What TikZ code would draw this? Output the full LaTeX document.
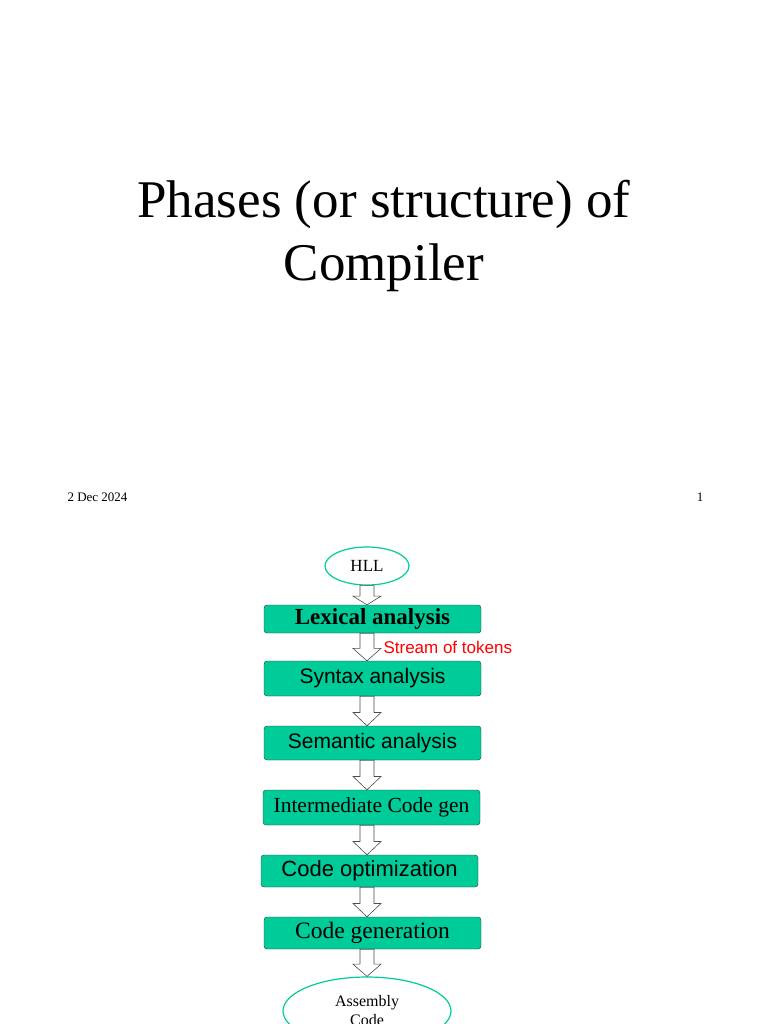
\documentclass[tikz,border=0pt]{standalone}
\usepackage{fontspec}
\setmainfont{Liberation Serif}
\setsansfont{Liberation Sans}
\usetikzlibrary{shapes.geometric,calc}
\definecolor{boxg}{HTML}{00CC99}
\tikzset{
 phase/.style={draw=black!80,fill=boxg,rounded corners=3pt,minimum width=217pt,inner sep=0pt,font=\fontsize{20}{22}\selectfont},
 term/.style={draw=boxg,line width=1.2pt,ellipse,inner sep=0pt},
 barrow/.style={draw=black!70,fill=white,line width=0.6pt}
}
\newcommand{\low}[1]{\raisebox{-15pt}{#1}}
\newcommand{\blockarrow}[2]{%
 \path let \p1=(#1.south), \p2=(#2.north), \n1={\y1-(\y1-\y2)*0.55} in
  [barrow] (367pt-7pt,\y1) -- (367pt+7pt,\y1) -- (367pt+7pt,\n1) -- (367pt+14pt,\n1) -- (367pt,\y2)
  -- (367pt-14pt,\n1) -- (367pt-7pt,\n1) -- cycle;}
\begin{document}
\begin{tikzpicture}[x=1pt,y=-1pt]
\useasboundingbox (0,0) rectangle (768,1024);
\clip (0,0) rectangle (768,1024);
\node[font=\fontsize{53}{63}\selectfont,align=center] (title) at (384,236) {Phases (or structure) of\\Compiler};
\node[font=\fontsize{13}{15}\selectfont,anchor=west] (d1) at (64,497) {2 Dec 2024};
\node[font=\fontsize{13}{15}\selectfont] (p1) at (700,497) {1};
\node[font=\fontsize{13}{15}\selectfont,anchor=west] (d2) at (64,1030) {2 Dec 2024};
\node[font=\fontsize{13}{15}\selectfont] (p2) at (700,1030) {2};

\node[term,minimum width=84pt,minimum height=38pt,font=\fontsize{17}{19}\selectfont] (hll) at (367,566) {HLL};
\node[phase,minimum height=28pt,font=\fontsize{23}{25}\selectfont] (lex) at (372.5,619) {\low{\textbf{Lexical analysis}}};
\node[phase,minimum height=35pt,font=\sffamily\fontsize{21}{23}\selectfont] (syn) at (372.5,678.5) {\low{Syntax analysis}};
\node[phase,minimum height=34pt,font=\sffamily\fontsize{21}{23}\selectfont] (sem) at (372.5,743) {\low{Semantic analysis}};
\node[phase,minimum height=35pt,font=\fontsize{21.5}{23}\selectfont] (inter) at (371.5,807.5) {\low{Intermediate Code gen}};
\node[phase,minimum height=32pt,font=\sffamily\fontsize{22}{24}\selectfont] (opt) at (369.5,871) {\low{Code optimization}};
\node[phase,minimum height=32pt,font=\fontsize{23.5}{25}\selectfont] (gen) at (372.5,933) {\low{Code generation}};
\node[term,minimum width=168pt,minimum height=68pt,font=\fontsize{16}{19}\selectfont,align=center] (asm) at (367,1011) {Assembly\\Code};

\blockarrow{hll}{lex}
\blockarrow{lex}{syn}
\blockarrow{syn}{sem}
\blockarrow{sem}{inter}
\blockarrow{inter}{opt}
\blockarrow{opt}{gen}
\blockarrow{gen}{asm}
\node[text=red,font=\sffamily\fontsize{17}{19}\selectfont,anchor=west] (tok) at (380,647) {Stream of tokens};
\end{tikzpicture}
\end{document}
